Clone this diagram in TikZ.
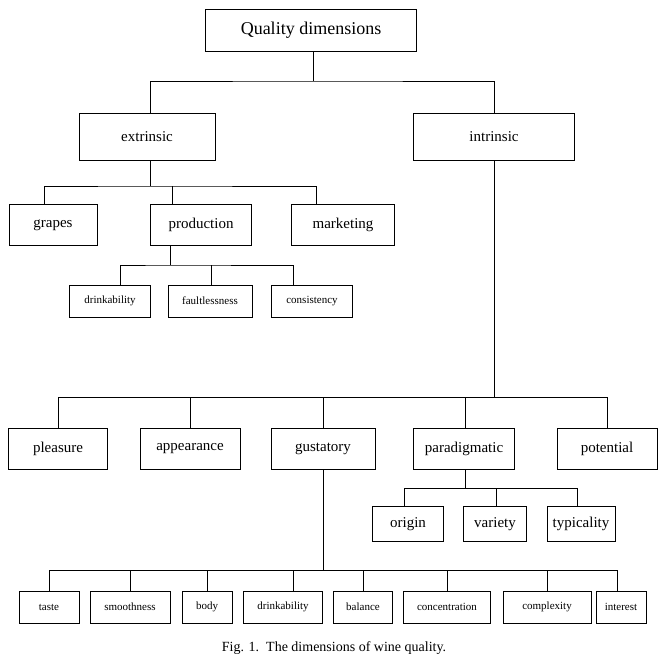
\documentclass[tikz,border=0pt]{standalone}
\usepackage{fontspec}
\setmainfont{Liberation Serif}
\begin{document}
\begin{tikzpicture}[x=1pt,y=-1pt,
 bx/.style={draw,line width=0.8pt,minimum height=#1,inner sep=0pt},
 big/.style={bx=42,font=\fontsize{18}{20}\selectfont},
 mid/.style={bx=41,font=\fontsize{15}{17}\selectfont},
 sml/.style={bx=32,font=\fontsize{11}{13}\selectfont},
 ln/.style={line width=0.8pt}]
\useasboundingbox (0,0) rectangle (668,662);
\node[big,minimum width=211] (q) at (311,30) {Quality dimensions};
\node[mid,minimum width=136,minimum height=47] (ext) at (147,137) {extrinsic};
\node[mid,minimum width=161,minimum height=47] (int) at (494,137) {intrinsic};
\node[mid,minimum width=88] (gr) at (53,225) {grapes};
\node[mid,minimum width=101] (pr) at (201,225) {production};
\node[mid,minimum width=103] (mk) at (343,225) {marketing};
\node[sml,minimum width=81] (dr) at (110,301) {drinkability};
\node[sml,minimum width=84] (fa) at (210,301) {faultlessness};
\node[sml,minimum width=81] (co) at (312,301) {consistency};
\node[mid,minimum width=99] (pl) at (58,449) {pleasure};
\node[mid,minimum width=100] (ap) at (190,449) {appearance};
\node[mid,minimum width=104] (gu) at (323,449) {gustatory};
\node[mid,minimum width=101] (pa) at (464,449) {paradigmatic};
\node[mid,minimum width=100] (po) at (607,449) {potential};
\node[mid,minimum width=71,minimum height=35] (or) at (408,524) {origin};
\node[mid,minimum width=63,minimum height=35] (va) at (495,524) {variety};
\node[mid,minimum width=68,minimum height=35] (ty) at (581,524) {typicality};
\node[sml,minimum width=60] (b1) at (49,607) {taste};
\node[sml,minimum width=80] (b2) at (130,607) {smoothness};
\node[sml,minimum width=50] (b3) at (207,607) {body};
\node[sml,minimum width=79] (b4) at (283,607) {drinkability};
\node[sml,minimum width=59] (b5) at (363,607) {balance};
\node[sml,minimum width=87] (b6) at (447,607) {concentration};
\node[sml,minimum width=88] (b7) at (547,607) {complexity};
\node[sml,minimum width=50] (b8) at (621,607) {interest};
\node[font=\fontsize{14}{16}\selectfont] (cap) at (334,648) {Fig. 1.\ \ The dimensions of wine quality.};
% q
\coordinate (qb) at (313,81);
\draw[ln] ([xshift=2]q.south) -- (qb);
\draw[ln] ([xshift=3]ext.north) |- (qb) -| (int.north);
% extrinsic
\coordinate (eb) at (150,186);
\draw[ln] ([xshift=3]ext.south) -- (eb);
\draw[ln] ([xshift=-9]gr.north) |- (eb) -| ([xshift=-27]mk.north);
\draw[ln] ([xshift=-29]pr.north) -- ([xshift=-29]pr.north |- eb);
% production
\coordinate (pb) at (170,265);
\draw[ln] ([xshift=-31]pr.south) -- (pb);
\draw[ln] ([xshift=10]dr.north) |- (pb) -| ([xshift=-19]co.north);
\draw[ln] ([xshift=1]fa.north) -- ([xshift=1]fa.north |- pb);
% intrinsic
\coordinate (ib) at (494,397);
\draw[ln] (int.south) -- (ib);
\draw[ln] (pl.north) |- (ib) -| (po.north);
\foreach \n in {ap,gu} \draw[ln] (\n.north) -- (\n.north |- ib);
\draw[ln] ([xshift=1]pa.north) -- ([xshift=1]pa.north |- ib);
% paradigmatic
\coordinate (ab) at (465,488);
\draw[ln] ([xshift=1]pa.south) -- (ab);
\draw[ln] ([xshift=-4]or.north) |- (ab) -| ([xshift=-4]ty.north);
\draw[ln] ([xshift=1]va.north) -- ([xshift=1]va.north |- ab);
% gustatory
\coordinate (gb) at (323,570);
\draw[ln] (gu.south) -- (gb);
\draw[ln] (b1.north) |- (gb) -| ([xshift=-4]b8.north);
\foreach \n in {b2,b3,b5,b6,b7} \draw[ln] (\n.north) -- (\n.north |- gb);
\draw[ln] ([xshift=10]b4.north) -- ([xshift=10]b4.north |- gb);
\end{tikzpicture}
\end{document}
